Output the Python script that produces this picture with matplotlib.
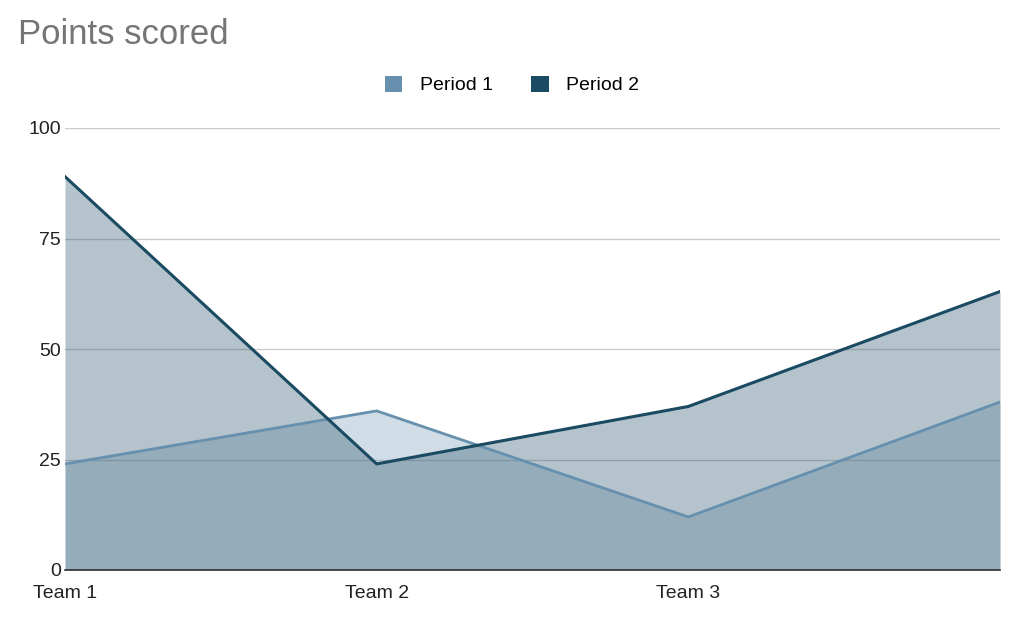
import matplotlib.pyplot as plt

plt.rcParams['font.family'] = ['Liberation Sans', 'DejaVu Sans']

# chart data
teams = ["Team 1", "Team 2", "Team 3", "Team 4"]
tick_labels = ["Team 1", "Team 2", "Team 3", ""]
period_1 = [24, 36, 12, 38]
period_2 = [89, 24, 37, 63]
y_ticks = [0, 25, 50, 75, 100]

c1 = "#6690AE"
c2 = "#1B4A63"

fig = plt.figure(figsize=(10.24, 6.28), dpi=100)
ax = fig.add_axes([65 / 1024, 1 - 570 / 628, 935 / 1024, 442 / 628])

x = list(range(len(teams)))

ax.fill_between(x, period_1, 0, color=c1, alpha=0.3, linewidth=0, zorder=2)
ax.fill_between(x, period_2, 0, color=c2, alpha=0.32, linewidth=0, zorder=2)
ax.plot(x, period_1, color=c1, linewidth=2.0, label="Period 1", zorder=3)
ax.plot(x, period_2, color=c2, linewidth=2.2, label="Period 2", zorder=4)

ax.set_xlim(0, len(teams) - 1)
ax.set_ylim(0, 100)
ax.set_yticks(y_ticks)
ax.set_xticks(x)
ax.set_xticklabels(tick_labels)
ax.grid(axis="y", color="#CCCCCC", linewidth=1, zorder=1)
ax.set_axisbelow(True)

for s in ["top", "right", "left"]:
    ax.spines[s].set_visible(False)
ax.spines["bottom"].set_color("#333333")
ax.spines["bottom"].set_linewidth(1.2)
ax.spines["bottom"].set_zorder(5)

ax.tick_params(axis="both", length=0, labelsize=14, colors="#222222")
ax.tick_params(axis="y", pad=3)
ax.tick_params(axis="x", pad=11)

fig.text(18 / 1024, 1 - 35 / 628, "Points scored", fontsize=25, color="#757575",
         va="center", ha="left")

handles = [plt.Rectangle((0, 0), 1, 1, facecolor=c1, edgecolor="none"),
           plt.Rectangle((0, 0), 1, 1, facecolor=c2, edgecolor="none")]
fig.legend(handles, ["Period 1", "Period 2"], loc="center",
           bbox_to_anchor=(0.5, 1 - 85 / 628), ncol=2, frameon=False,
           fontsize=14, handlelength=0.9, handleheight=0.9,
           handletextpad=0.9, columnspacing=2.0)

fig.savefig("out.png", dpi=100)
